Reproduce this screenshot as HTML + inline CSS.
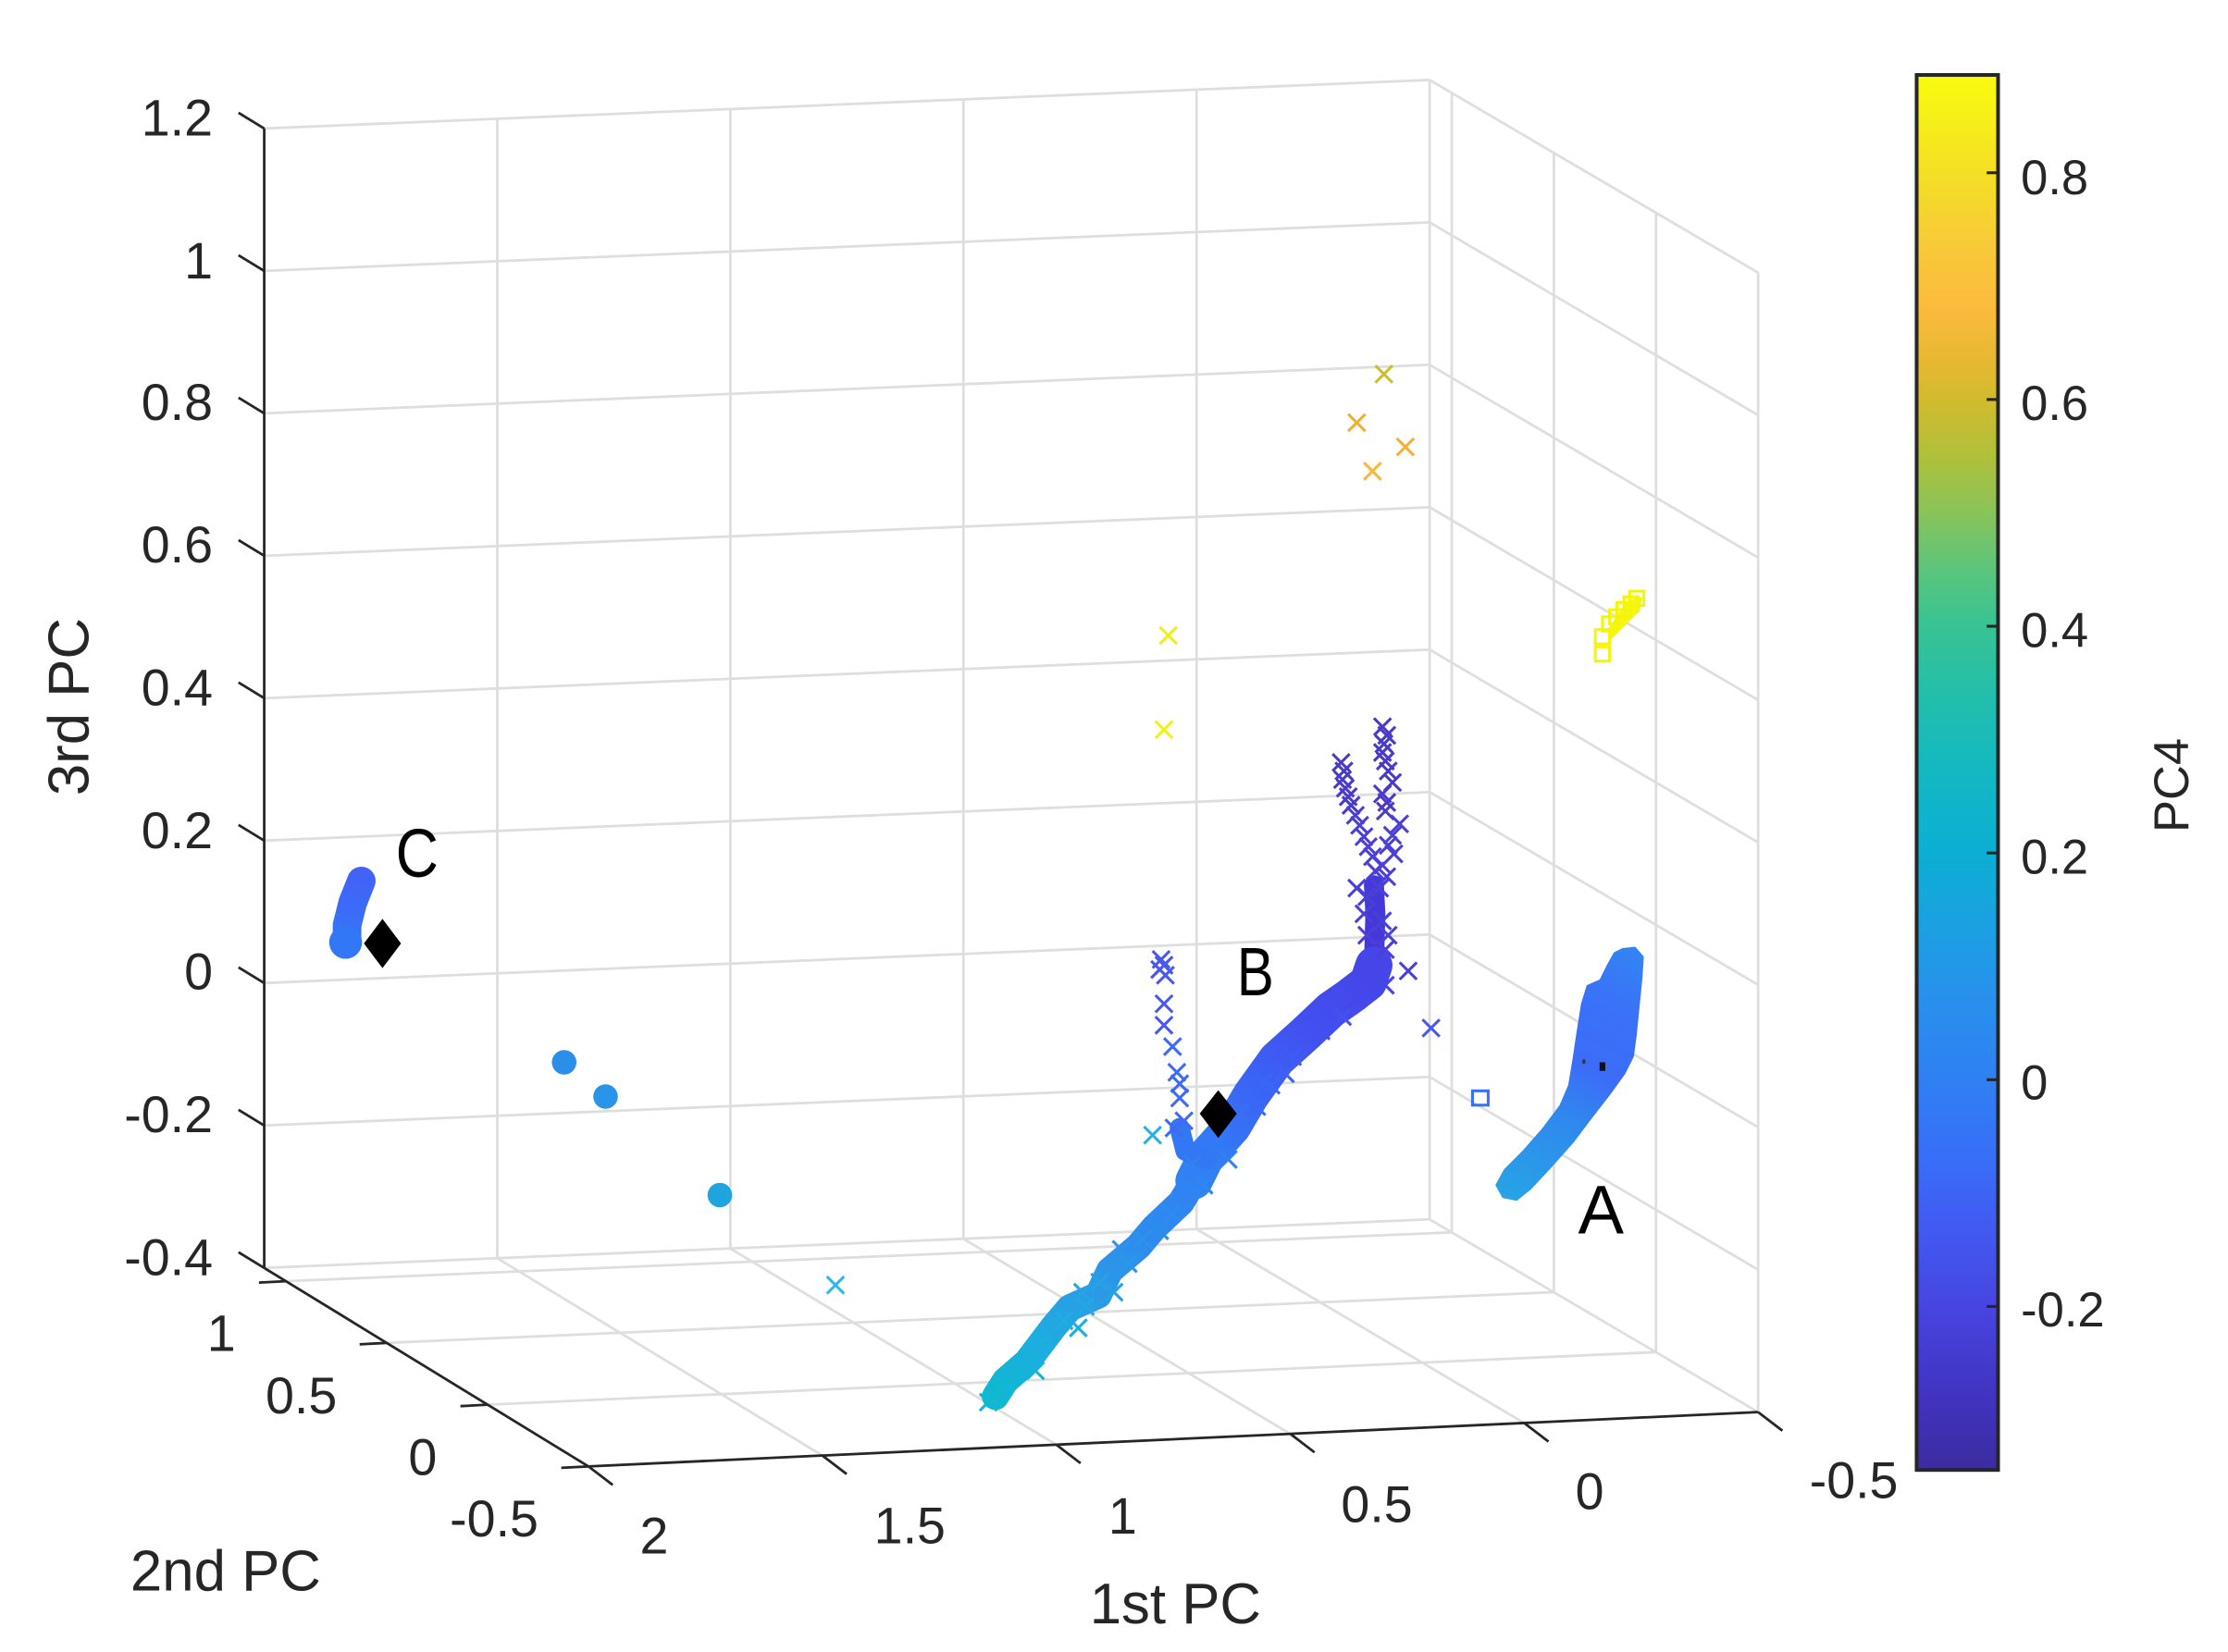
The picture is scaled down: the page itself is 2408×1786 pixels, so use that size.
<!DOCTYPE html>
<html>
<head>
<meta charset="utf-8">
<style>
html,body{margin:0;padding:0;background:#fff;}
svg{display:block;}
text{font-family:"Liberation Sans",Arial,sans-serif;fill:#262626;}
</style>
</head>
<body>
<svg width="2408" height="1786" viewBox="0 0 1560 1157" preserveAspectRatio="none" xmlns="http://www.w3.org/2000/svg">
<defs>
  <linearGradient id="cb" x1="0" y1="0" x2="0" y2="1">
    <stop offset="0" stop-color="#f9fb0e"/>
    <stop offset="0.069" stop-color="#f3e024"/>
    <stop offset="0.119" stop-color="#f8cb38"/>
    <stop offset="0.165" stop-color="#fcbb3d"/>
    <stop offset="0.201" stop-color="#eab833"/>
    <stop offset="0.232" stop-color="#d2bb2e"/>
    <stop offset="0.273" stop-color="#b0c03a"/>
    <stop offset="0.314" stop-color="#88c45a"/>
    <stop offset="0.355" stop-color="#5bc57c"/>
    <stop offset="0.394" stop-color="#38c393"/>
    <stop offset="0.448" stop-color="#22beac"/>
    <stop offset="0.499" stop-color="#13b8c2"/>
    <stop offset="0.557" stop-color="#0caed3"/>
    <stop offset="0.612" stop-color="#1ca0e2"/>
    <stop offset="0.663" stop-color="#2890ec"/>
    <stop offset="0.721" stop-color="#2f80f3"/>
    <stop offset="0.776" stop-color="#386ef8"/>
    <stop offset="0.828" stop-color="#4259f2"/>
    <stop offset="0.884" stop-color="#4745e0"/>
    <stop offset="0.940" stop-color="#4135c4"/>
    <stop offset="1" stop-color="#3b2c9f"/>
  </linearGradient>
  <linearGradient id="bg" gradientUnits="userSpaceOnUse" x1="960" y1="680" x2="695" y2="982">
    <stop offset="0" stop-color="#4545e8"/>
    <stop offset="0.15" stop-color="#4250f0"/>
    <stop offset="0.3" stop-color="#3a66f6"/>
    <stop offset="0.45" stop-color="#3080f4"/>
    <stop offset="0.62" stop-color="#2e8cee"/>
    <stop offset="0.78" stop-color="#28a0e4"/>
    <stop offset="0.88" stop-color="#1caee0"/>
    <stop offset="1" stop-color="#10b8d0"/>
  </linearGradient>
  <linearGradient id="ag" gradientUnits="userSpaceOnUse" x1="1140" y1="664" x2="1055" y2="838">
    <stop offset="0" stop-color="#3384f2"/>
    <stop offset="0.2" stop-color="#3a72f8"/>
    <stop offset="0.45" stop-color="#3c6cf8"/>
    <stop offset="0.65" stop-color="#2f88ee"/>
    <stop offset="1" stop-color="#27a3e6"/>
  </linearGradient>
  <linearGradient id="cg" gradientUnits="userSpaceOnUse" x1="253" y1="613" x2="242" y2="668">
    <stop offset="0" stop-color="#4262f8"/>
    <stop offset="1" stop-color="#3278f6"/>
  </linearGradient>
  <path id="xm" d="M-6,-6L6,6M-6,6L6,-6"/>
</defs>

<rect x="0" y="0" width="1560" height="1157" fill="#fff"/>

<!-- grid lines -->
<g stroke="#dedede" stroke-width="1.8" fill="none">
  <line x1="185" y1="888" x2="1001" y2="854"/>
  <line x1="185" y1="788.25" x2="1001" y2="754.25"/>
  <line x1="185" y1="688.5" x2="1001" y2="654.5"/>
  <line x1="185" y1="588.75" x2="1001" y2="554.75"/>
  <line x1="185" y1="489" x2="1001" y2="455"/>
  <line x1="185" y1="389.25" x2="1001" y2="355.25"/>
  <line x1="185" y1="289.5" x2="1001" y2="255.5"/>
  <line x1="185" y1="189.75" x2="1001" y2="155.75"/>
  <line x1="185" y1="90" x2="1001" y2="56"/>
  <line x1="348.2" y1="881.2" x2="348.2" y2="83.2"/>
  <line x1="511.4" y1="874.4" x2="511.4" y2="76.4"/>
  <line x1="674.6" y1="867.6" x2="674.6" y2="69.6"/>
  <line x1="837.8" y1="860.8" x2="837.8" y2="62.8"/>
  <line x1="1001" y1="854" x2="1001" y2="56"/>
  <line x1="1001" y1="854" x2="1231" y2="989"/>
  <line x1="1001" y1="754.25" x2="1231" y2="889.25"/>
  <line x1="1001" y1="654.5" x2="1231" y2="789.5"/>
  <line x1="1001" y1="554.75" x2="1231" y2="689.75"/>
  <line x1="1001" y1="455" x2="1231" y2="590"/>
  <line x1="1001" y1="355.25" x2="1231" y2="490.25"/>
  <line x1="1001" y1="255.5" x2="1231" y2="390.5"/>
  <line x1="1001" y1="155.75" x2="1231" y2="290.75"/>
  <line x1="1001" y1="56" x2="1231" y2="191"/>
  <line x1="1016.5" y1="863.1" x2="1016.5" y2="65.1"/>
  <line x1="1088" y1="905" x2="1088" y2="107"/>
  <line x1="1159.5" y1="947" x2="1159.5" y2="149"/>
  <line x1="1231" y1="989" x2="1231" y2="191"/>
  <line x1="348.2" y1="881.2" x2="575.8" y2="1019.4"/>
  <line x1="511.4" y1="874.4" x2="739.6" y2="1011.8"/>
  <line x1="674.6" y1="867.6" x2="903.4" y2="1004.2"/>
  <line x1="837.8" y1="860.8" x2="1067.2" y2="996.6"/>
  <line x1="200.3" y1="897.3" x2="1016.5" y2="863.1"/>
  <line x1="270.8" y1="940.5" x2="1088" y2="905"/>
  <line x1="341.4" y1="983.8" x2="1159.5" y2="947"/>
</g>

<!-- axes -->
<g stroke="#262626" stroke-width="1.8" fill="none">
  <line x1="185" y1="90" x2="185" y2="888"/>
  <line x1="185" y1="888" x2="412" y2="1027"/>
  <line x1="412" y1="1027" x2="1231" y2="989"/>
  <line x1="185" y1="90" x2="167" y2="79"/>
  <line x1="185" y1="189.75" x2="167" y2="178.75"/>
  <line x1="185" y1="289.5" x2="167" y2="278.5"/>
  <line x1="185" y1="389.25" x2="167" y2="378.25"/>
  <line x1="185" y1="489" x2="167" y2="478"/>
  <line x1="185" y1="588.75" x2="167" y2="577.75"/>
  <line x1="185" y1="688.5" x2="167" y2="677.5"/>
  <line x1="185" y1="788.25" x2="167" y2="777.25"/>
  <line x1="185" y1="888" x2="167" y2="877"/>
  <line x1="200.3" y1="897.3" x2="181.3" y2="898.3"/>
  <line x1="270.8" y1="940.5" x2="251.8" y2="941.5"/>
  <line x1="341.4" y1="983.8" x2="322.4" y2="984.8"/>
  <line x1="412" y1="1027" x2="393" y2="1028"/>
  <line x1="412" y1="1027" x2="429" y2="1040"/>
  <line x1="575.8" y1="1019.4" x2="592.8" y2="1032.4"/>
  <line x1="739.6" y1="1011.8" x2="756.6" y2="1024.8"/>
  <line x1="903.4" y1="1004.2" x2="920.4" y2="1017.2"/>
  <line x1="1067.2" y1="996.6" x2="1084.2" y2="1009.6"/>
  <line x1="1231" y1="989" x2="1248" y2="1002"/>
</g>

<g font-size="36" text-anchor="end">
  <text x="149" y="95">1.2</text>
  <text x="149" y="195">1</text>
  <text x="149" y="294">0.8</text>
  <text x="149" y="394">0.6</text>
  <text x="149" y="494">0.4</text>
  <text x="149" y="594">0.2</text>
  <text x="149" y="693">0</text>
  <text x="149" y="793">-0.2</text>
  <text x="149" y="893">-0.4</text>
</g>
<g font-size="36" text-anchor="end">
  <text x="165" y="946">1</text>
  <text x="236" y="990">0.5</text>
  <text x="306" y="1033">0</text>
  <text x="377" y="1076">-0.5</text>
</g>
<g font-size="36">
  <text x="448" y="1088">2</text>
  <text x="612" y="1081">1.5</text>
  <text x="776" y="1074">1</text>
  <text x="939" y="1066">0.5</text>
  <text x="1103" y="1057">0</text>
  <text x="1267" y="1049">-0.5</text>
</g>

<text x="158" y="1114" font-size="40" text-anchor="middle">2nd PC</text>
<text x="823" y="1137" font-size="40" text-anchor="middle">1st PC</text>
<text transform="translate(62,495) rotate(-90)" font-size="40" text-anchor="middle">3rd PC</text>

<!-- colorbar -->
<rect x="1342" y="52.5" width="57" height="977" fill="url(#cb)" stroke="#262626" stroke-width="2.6"/>
<g stroke="#262626" stroke-width="2">
  <line x1="1399" y1="121" x2="1391" y2="121"/>
  <line x1="1399" y1="279.8" x2="1391" y2="279.8"/>
  <line x1="1399" y1="438.6" x2="1391" y2="438.6"/>
  <line x1="1399" y1="597.4" x2="1391" y2="597.4"/>
  <line x1="1399" y1="756.2" x2="1391" y2="756.2"/>
  <line x1="1399" y1="915" x2="1391" y2="915"/>
</g>
<g font-size="34">
  <text x="1415" y="136">0.8</text>
  <text x="1415" y="294">0.6</text>
  <text x="1415" y="453">0.4</text>
  <text x="1415" y="612">0.2</text>
  <text x="1415" y="770">0</text>
  <text x="1415" y="929">-0.2</text>
</g>
<text transform="translate(1532,550) rotate(-90)" font-size="34" text-anchor="middle">PC4</text>

<!-- C cluster -->
<polyline points="253,617 247,632 243,648 243,660" fill="none" stroke="url(#cg)" stroke-width="20" stroke-linecap="round" stroke-linejoin="round"/>
<circle cx="242" cy="660" r="11.5" fill="#3278f6"/>
<polygon points="267.8,643.5 280.8,660.8 267.8,678 254.8,660.8" fill="#000"/>

<circle cx="395" cy="744" r="8.6" fill="#2b8ee8"/>
<circle cx="424" cy="768" r="8.6" fill="#2a95e8"/>
<circle cx="504" cy="837" r="8.6" fill="#1fa4e0"/>

<!-- B band -->
<polyline points="962,620 963,640 962,676" fill="none" stroke="#4538d8" stroke-width="14" stroke-linecap="round"/>
<polyline points="962,676 958,688 945,698 932,707 914,724 894,742 876,767 863,789 845,809 836,827" fill="none" stroke="url(#bg)" stroke-width="26" stroke-linecap="round" stroke-linejoin="round"/>
<polyline points="836,827 827,842 808,860 797,873 777,890 769,907 749,916 738,929 719,954 704,967 697,978" fill="none" stroke="url(#bg)" stroke-width="19" stroke-linecap="round" stroke-linejoin="round"/>
<polyline points="826,790 830,806 845,812" fill="none" stroke="#3278f4" stroke-width="14" stroke-linecap="round" stroke-linejoin="round"/>

<g fill="none" stroke-width="2">
  <g stroke="#4a3ac8">
    <use href="#xm" x="968" y="509"/><use href="#xm" x="971" y="515"/><use href="#xm" x="969" y="521"/>
    <use href="#xm" x="968" y="527"/><use href="#xm" x="970" y="533"/><use href="#xm" x="972" y="540"/>
    <use href="#xm" x="939" y="534"/><use href="#xm" x="941" y="540"/><use href="#xm" x="940" y="546"/>
    <use href="#xm" x="942" y="552"/><use href="#xm" x="968" y="556"/><use href="#xm" x="971" y="562"/>
    <use href="#xm" x="970" y="568"/><use href="#xm" x="944" y="558"/><use href="#xm" x="946" y="564"/>
    <use href="#xm" x="975" y="548"/>
  </g>
  <g stroke="#4a40d8">
    <use href="#xm" x="949" y="571"/><use href="#xm" x="952" y="578"/><use href="#xm" x="955" y="586"/>
    <use href="#xm" x="958" y="593"/><use href="#xm" x="961" y="600"/><use href="#xm" x="975" y="585"/>
    <use href="#xm" x="972" y="592"/><use href="#xm" x="976" y="598"/><use href="#xm" x="968" y="606"/>
    <use href="#xm" x="971" y="614"/><use href="#xm" x="966" y="622"/><use href="#xm" x="950" y="622"/>
    <use href="#xm" x="957" y="628"/><use href="#xm" x="968" y="645"/><use href="#xm" x="957" y="655"/>
    <use href="#xm" x="986" y="680"/><use href="#xm" x="970" y="665"/><use href="#xm" x="980" y="577"/>
    <use href="#xm" x="963" y="610"/><use href="#xm" x="955" y="640"/><use href="#xm" x="972" y="655"/>
  </g>
  <use href="#xm" x="1002" y="720" stroke="#4a58f0"/>
  <use href="#xm" x="950" y="700" stroke="#4448ea"/><use href="#xm" x="970" y="690" stroke="#4646e6"/>
  <use href="#xm" x="925" y="722" stroke="#4250f0"/><use href="#xm" x="940" y="712" stroke="#4450ee"/>
  <use href="#xm" x="905" y="740" stroke="#3e5cf4"/><use href="#xm" x="885" y="758" stroke="#3a66f6"/>
  <use href="#xm" x="900" y="752" stroke="#3c62f4"/><use href="#xm" x="868" y="780" stroke="#3670f6"/>
  <use href="#xm" x="880" y="775" stroke="#3a68f6"/><use href="#xm" x="852" y="800" stroke="#327af4"/>
  <use href="#xm" x="835" y="815" stroke="#3080f4"/><use href="#xm" x="843" y="830" stroke="#2e86f0"/>
  <use href="#xm" x="820" y="850" stroke="#2d8cee"/><use href="#xm" x="800" y="868" stroke="#2c92ea"/>
  <use href="#xm" x="790" y="885" stroke="#2a98e8"/><use href="#xm" x="770" y="898" stroke="#28a0e4"/>
  <use href="#xm" x="760" y="915" stroke="#22a8e2"/><use href="#xm" x="745" y="925" stroke="#1eaee0"/>
  <use href="#xm" x="730" y="940" stroke="#18b2dc"/><use href="#xm" x="715" y="958" stroke="#14b4d6"/>
  <use href="#xm" x="700" y="972" stroke="#10b8d0"/><use href="#xm" x="758" y="905" stroke="#26a4e4"/>
  <use href="#xm" x="785" y="875" stroke="#2b94ea"/><use href="#xm" x="812" y="862" stroke="#2c8eec"/>
  <use href="#xm" x="692" y="982" stroke="#10b8d0"/><use href="#xm" x="780" y="905" stroke="#28a0e4"/>
  <use href="#xm" x="755" y="930" stroke="#1eaee0"/><use href="#xm" x="725" y="960" stroke="#16b3d8"/>
  <use href="#xm" x="860" y="812" stroke="#3080f4"/><use href="#xm" x="890" y="760" stroke="#3a66f6"/>
  <g stroke="#4858f0">
    <use href="#xm" x="813" y="672"/><use href="#xm" x="815" y="676"/><use href="#xm" x="812" y="679"/>
    <use href="#xm" x="816" y="683"/><use href="#xm" x="815" y="703"/><use href="#xm" x="815" y="718"/>
  </g>
  <g stroke="#3e6af4">
    <use href="#xm" x="821" y="733"/><use href="#xm" x="824" y="751"/><use href="#xm" x="826" y="759"/>
    <use href="#xm" x="826" y="769"/><use href="#xm" x="829" y="785"/><use href="#xm" x="822" y="790"/>
  </g>
  <use href="#xm" x="807" y="795" stroke="#28b0e4"/>
  <use href="#xm" x="585" y="900" stroke="#30b8e8"/>
  <use href="#xm" x="969" y="262" stroke="#c8c02a"/>
  <use href="#xm" x="950" y="296" stroke="#f0b030"/>
  <use href="#xm" x="984" y="313" stroke="#f5b035"/>
  <use href="#xm" x="961" y="330" stroke="#f8b840"/>
  <use href="#xm" x="818" y="445" stroke="#f2ee1c"/>
  <use href="#xm" x="815" y="511" stroke="#f6f012"/>
</g>
<polygon points="853,763.5 866,780 853,797 840,780" fill="#000"/>

<!-- A cluster -->
<polygon points="1136,664 1145,663 1151,670 1150,685 1148,705 1146,725 1144,740 1138,752 1128,766 1114,784 1102,800 1086,818 1072,833 1062,841 1052,839 1047,830 1053,819 1066,806 1080,790 1092,774 1098,760 1101,742 1104,722 1107,703 1111,690 1120,686 1125,676 1130,667" fill="url(#ag)"/>
<rect x="1120" y="744" width="4" height="6" fill="#111"/>
<rect x="1108" y="742" width="2" height="3" fill="#333"/>
<rect x="1031" y="764" width="11" height="10" fill="none" stroke="#3a70f8" stroke-width="2"/>

<polygon points="1126,440 1140,420 1150,418 1148,428 1134,442 1128,448" fill="#f7f514"/>
<g fill="none" stroke="#f5f50a" stroke-width="2">
  <rect x="1117" y="453" width="10" height="10"/>
  <rect x="1117" y="441" width="10" height="10"/>
  <rect x="1122" y="432" width="10" height="10"/>
  <rect x="1127" y="427" width="10" height="10"/>
  <rect x="1132" y="422" width="10" height="10"/>
  <rect x="1137" y="418" width="10" height="10"/>
  <rect x="1141" y="414" width="10" height="10"/>
</g>

<text x="277" y="614" font-size="48" textLength="30" lengthAdjust="spacingAndGlyphs" style="fill:#000">C</text>
<text x="866" y="697" font-size="48" textLength="26" lengthAdjust="spacingAndGlyphs" style="fill:#000">B</text>
<text x="1105" y="864" font-size="48" textLength="32" lengthAdjust="spacingAndGlyphs" style="fill:#000">A</text>
</svg>
</body>
</html>
